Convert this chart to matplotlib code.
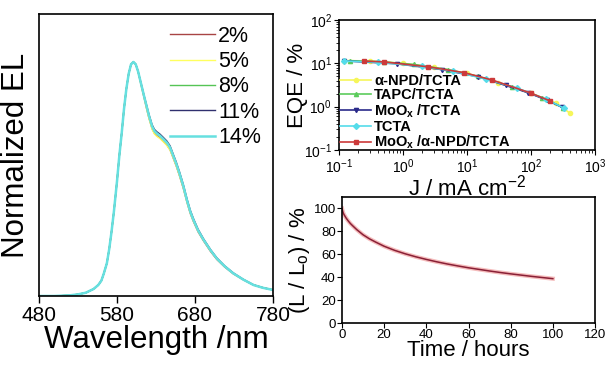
import matplotlib
matplotlib.use("Agg")
import matplotlib.pyplot as plt

plt.rcParams['font.family'] = ['Liberation Sans', 'DejaVu Sans']
plt.rcParams['mathtext.fontset'] = 'custom'
plt.rcParams['mathtext.rm'] = 'Liberation Sans'
plt.rcParams['mathtext.it'] = 'Liberation Sans:italic'
plt.rcParams['mathtext.bf'] = 'Liberation Sans:bold'

# ---- Panel (a): normalized EL spectra ----
wl = [480, 500, 520, 530, 540, 550, 556, 560, 563, 567, 570, 573, 576, 580,
      583, 586, 589, 592, 595, 598, 601, 604, 607, 611, 615, 618, 621, 625,
      628, 631, 635, 639, 644, 648, 652, 656, 660, 665, 670, 674, 678, 684,
      691, 700, 708, 718, 729, 742, 755, 767, 780]
el_8 = [0.0, 0.0, 0.003, 0.007, 0.014, 0.03, 0.047, 0.066, 0.095, 0.14, 0.2,
        0.275, 0.36, 0.49, 0.6, 0.695, 0.8, 0.885, 0.95, 0.99, 1.0, 0.99, 0.96,
        0.905, 0.85, 0.81, 0.77, 0.725, 0.705, 0.695, 0.685, 0.672, 0.655,
        0.635, 0.6, 0.565, 0.525, 0.47, 0.405, 0.36, 0.325, 0.28, 0.24, 0.195,
        0.16, 0.127, 0.097, 0.07, 0.047, 0.035, 0.026]
el_14 = el_8
el_2 = [0.0, 0.0, 0.003, 0.007, 0.014, 0.03, 0.047, 0.066, 0.095, 0.14, 0.2,
        0.275, 0.36, 0.49, 0.6, 0.695, 0.8, 0.885, 0.95, 0.99, 1.0, 0.99, 0.96,
        0.9, 0.843, 0.8, 0.76, 0.715, 0.695, 0.685, 0.675, 0.662, 0.645,
        0.625, 0.59, 0.555, 0.515, 0.46, 0.397, 0.352, 0.318, 0.274, 0.235,
        0.19, 0.156, 0.124, 0.095, 0.069, 0.047, 0.035, 0.026]
el_5 = [0.0, 0.0, 0.003, 0.007, 0.014, 0.03, 0.047, 0.066, 0.095, 0.14, 0.2,
        0.275, 0.36, 0.49, 0.6, 0.695, 0.8, 0.885, 0.95, 0.99, 1.0, 0.99, 0.96,
        0.9, 0.845, 0.8, 0.758, 0.712, 0.692, 0.682, 0.673, 0.66, 0.643,
        0.623, 0.59, 0.555, 0.515, 0.462, 0.398, 0.354, 0.32, 0.276, 0.237,
        0.192, 0.158, 0.126, 0.096, 0.07, 0.048, 0.036, 0.027]
el_11 = [0.0, 0.0, 0.003, 0.007, 0.014, 0.03, 0.047, 0.066, 0.095, 0.14, 0.2,
         0.275, 0.36, 0.49, 0.6, 0.695, 0.8, 0.885, 0.95, 0.99, 1.0, 0.99, 0.96,
         0.907, 0.853, 0.815, 0.776, 0.732, 0.712, 0.702, 0.692, 0.679, 0.662,
         0.642, 0.607, 0.572, 0.532, 0.477, 0.412, 0.366, 0.331, 0.285, 0.244,
         0.198, 0.163, 0.129, 0.099, 0.071, 0.048, 0.036, 0.026]
spectra = [("2%", el_2, "#a84444", 1.0),
           ("5%", el_5, "#ffff5e", 1.0),
           ("8%", el_8, "#55c455", 1.0),
           ("11%", el_11, "#30306e", 1.0),
           ("14%", el_14, "#66e0e0", 1.8)]

# ---- Panel (b): EQE vs J ----
J_npd = [0.12, 0.3, 1.0, 3.0, 10, 30, 100, 250, 400]
E_npd = [11.6, 11.3, 10.0, 8.1, 5.9, 3.6, 2.05, 1.2, 0.72]
J_tapc = [0.15, 0.5, 1.5, 5, 15, 50, 150, 320]
E_tapc = [11.5, 10.8, 9.4, 7.2, 5.0, 2.9, 1.6, 0.95]
J_moox = [0.12, 0.8, 4.0, 15, 40, 90, 180, 300]
E_moox = [11.4, 9.8, 7.2, 4.9, 3.1, 2.1, 1.4, 0.98]
J_tcta = [0.12, 0.4, 2.0, 6, 20, 60, 170, 330]
E_tcta = [11.3, 10.6, 8.5, 6.6, 4.3, 2.7, 1.5, 0.92]
J_mnpd = [0.25, 0.5, 2.5, 9, 25, 100, 200]
E_mnpd = [11.3, 10.8, 8.3, 6.1, 4.1, 2.05, 1.35]
eqe_series = [
    ("α-NPD/TCTA", J_npd, E_npd, "#f6f65a", "o"),
    ("TAPC/TCTA", J_tapc, E_tapc, "#5ccc5c", "^"),
    (r"MoO$_\mathbf{x}$ /TCTA", J_moox, E_moox, "#2a2a8a", "v"),
    ("TCTA", J_tcta, E_tcta, "#55dcea", "D"),
    (r"MoO$_\mathbf{x}$ /α-NPD/TCTA", J_mnpd, E_mnpd, "#cc3a3a", "s"),
]

# ---- Panel (c): lifetime ----
t_h = [0, 0.5, 1, 2, 3, 4, 5, 7, 10, 13, 16, 20, 25, 30, 35, 40, 45, 50, 55,
       60, 65, 70, 75, 80, 85, 90, 95, 100]
lum = [100, 96.5, 94.5, 91.5, 89, 86.8, 85, 81.5, 77, 73.5, 70.6, 67, 63.4,
       60.4, 57.8, 55.5, 53.4, 51.5, 49.8, 48.2, 46.8, 45.4, 44.1, 42.9, 41.8,
       40.7, 39.7, 38.7]

fig = plt.figure(figsize=(6.08, 3.66), dpi=100)
W, H = 608, 366

def ax_px(l, t, r, b):
    return fig.add_axes([l / W, 1 - b / H, (r - l) / W, (b - t) / H])

# Panel a
ax1 = ax_px(39, 14, 273, 296)
for lab, y, c, lw in spectra:
    ax1.plot(wl, y, color=c, lw=lw, label=lab)
ax1.set_xlim(480, 780)
ax1.set_ylim(0, 1.205)
ax1.set_xticks([480, 580, 680, 780])
ax1.set_yticks([])
ax1.tick_params(axis='x', direction='out', length=5, width=1, labelsize=15, pad=2)
ax1.set_xlabel("Wavelength /nm", fontsize=22.5, labelpad=0)
ax1.set_ylabel("Normalized EL", fontsize=22.5, labelpad=6)
ax1.legend(loc='upper right', frameon=False, fontsize=15.5, handlelength=2.1,
           handletextpad=0.15, labelspacing=0.2, borderaxespad=0.15,
           bbox_to_anchor=(1.0, 1.0))
for sp in ax1.spines.values():
    sp.set_linewidth(1.2)

# Panel b
ax2 = ax_px(339, 20, 595, 150)
for lab, x, y, c, m in eqe_series:
    ax2.plot(x, y, color=c, marker=m, ms=3, lw=1.2, label=lab)
ax2.set_xscale('log')
ax2.set_yscale('log')
ax2.set_xlim(0.1, 1000)
ax2.set_ylim(0.1, 100)
ax2.tick_params(which='major', direction='out', length=3.5, labelsize=10, pad=1.5)
ax2.tick_params(which='minor', direction='out', length=2)
ax2.set_xlabel(r"J / mA cm$^{-2}$", fontsize=16, labelpad=-1)
ax2.set_ylabel("EQE / %", fontsize=16, labelpad=-3)
ax2.legend(loc='lower left', frameon=False, prop={'weight': 'bold', 'size': 10.5},
           handlelength=2.1, handletextpad=0.2, labelspacing=0.0,
           borderaxespad=0.0, borderpad=0.1, bbox_to_anchor=(0.0, -0.02))
for sp in ax2.spines.values():
    sp.set_linewidth(1.2)

# Panel c
ax3 = ax_px(342, 197, 595, 323)
ax3.plot(t_h, lum, color="#f5bcbc", lw=3.0)
ax3.plot(t_h, lum, color="#8a2036", lw=1.1)
ax3.set_xlim(0, 120)
ax3.set_ylim(0, 110)
ax3.set_xticks(range(0, 121, 20))
ax3.set_yticks(range(0, 101, 20))
ax3.tick_params(direction='out', length=3.5, labelsize=9.5, pad=1)
ax3.set_xlabel("Time / hours", fontsize=16, labelpad=-1)
ax3.set_ylabel(r"(L / L$_\mathrm{o}$) / %", fontsize=16, labelpad=1)
for sp in ax3.spines.values():
    sp.set_linewidth(1.2)

fig.savefig("out.png", dpi=100)
